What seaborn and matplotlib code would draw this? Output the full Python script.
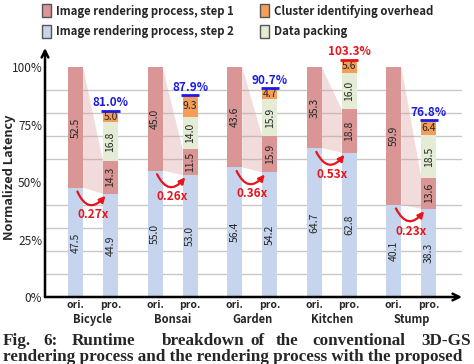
import matplotlib
matplotlib.use("Agg")
import matplotlib.pyplot as plt
from matplotlib.patches import Patch, Polygon, FancyArrowPatch
import numpy as np
import pandas as pd
import seaborn as sns

# data (percent of original runtime)
scenes = ["Bicycle", "Bonsai", "Garden", "Kitchen", "Stump"]
ori_step2 = [47.5, 55.0, 56.4, 64.7, 40.1]
ori_step1 = [52.5, 45.0, 43.6, 35.3, 59.9]
pro_step2 = [44.9, 53.0, 54.2, 62.8, 38.3]
pro_step1 = [14.3, 11.5, 15.9, 18.8, 13.6]
pro_packing = [16.8, 14.0, 15.9, 16.0, 18.5]
pro_cluster = [5.0, 9.3, 4.7, 5.6, 6.4]
total_labels = ["81.0%", "87.9%", "90.7%", "103.3%", "76.8%"]
speedups = ["0.27x", "0.26x", "0.36x", "0.53x", "0.23x"]

c_step1 = "#d99694"
c_step2 = "#c6d5ed"
c_cluster = "#f59e5a"
c_pack = "#e4ecd6"
c_red = "#e8141c"
c_blue = "#1c1ce0"

sns.set_style("white")
plt.rcParams['font.family'] = ['Noto Sans CJK KR', 'DejaVu Sans']

off = 0.22
rows = []
for i, s in enumerate(scenes):
    rows.append(dict(x=i - off, step2=ori_step2[i], step1=ori_step1[i], pack=0.0, clus=0.0))
    rows.append(dict(x=i + off, step2=pro_step2[i], step1=pro_step1[i], pack=pro_packing[i], clus=pro_cluster[i]))
df = pd.DataFrame(rows)
df['c1'] = df['step2']
df['c2'] = df['c1'] + df['step1']
df['c3'] = df['c2'] + df['pack']
df['c4'] = df['c3'] + df['clus']

fig = plt.figure(figsize=(4.74, 3.64), dpi=100)
ax = fig.add_axes([45/474, 1-297/364, (462-45)/474, (297-48)/364])

bw = 0.19
wrel = bw / (2*off)
# stacked bars by overdrawing cumulative heights, tallest first
for col, c in [('c4', c_cluster), ('c3', c_pack), ('c2', c_step1), ('c1', c_step2)]:
    sns.barplot(data=df, x='x', y=col, native_scale=True, color=c, saturation=1,
                width=wrel, linewidth=0, ax=ax, zorder=2)

# shaded band linking step1 of ori and pro
for i in range(len(scenes)):
    xo = i - off + bw/2
    xp = i + off - bw/2
    poly = Polygon([(xo, 100), (xp, pro_step2[i] + pro_step1[i]), (xp, pro_step2[i]), (xo, ori_step2[i])],
                   closed=True, facecolor=c_step1, alpha=0.33, edgecolor='none', zorder=1.5)
    ax.add_patch(poly)

# value labels
for _, r in df.iterrows():
    segs = [(r['step2'], 0), (r['step1'], r['c1']), (r['pack'], r['c2'])]
    for v, b in segs:
        if v > 0:
            ax.text(r['x'], b + v/2, f"{v:.1f}", rotation=90, ha='center', va='center',
                    fontsize=7.5, zorder=5)
    if r['clus'] > 0:
        ax.text(r['x'], r['c3'] + r['clus']/2, f"{r['clus']:.1f}", ha='center', va='center',
                fontsize=7.5, zorder=5)

# total markers and speedup arcs
for i in range(len(scenes)):
    xp = i + off
    top = df.loc[2*i+1, 'c4']
    col = c_red if top > 100 else c_blue
    ax.plot([xp - 0.115, xp + 0.115], [top, top], color=col, lw=2, zorder=6, solid_capstyle='butt')
    ax.text(xp, top + 0.6, total_labels[i], color=col, ha='center', va='bottom',
            fontsize=8.5, fontweight='bold', zorder=6)
    arr = FancyArrowPatch((i - off + 0.01, ori_step2[i] - 0.5), (i + off - 0.04, pro_step2[i]),
                          connectionstyle="arc3,rad=0.85", arrowstyle="-|>", mutation_scale=9,
                          color=c_red, lw=1.6, zorder=7)
    ax.add_patch(arr)
    ax.text(i, ori_step2[i] - 11.5, speedups[i], color=c_red, ha='center', va='center',
            fontsize=8.5, fontweight='bold', zorder=7)

ax.set_xlim(-0.603, 4.636)
ax.set_ylim(0, 108.3)
ax.set_xlabel("")
ax.set_ylabel("")

xt = [i + d for i in range(len(scenes)) for d in (-off, off)]
ax.set_xticks(xt)
ax.set_xticklabels(["ori.", "pro."] * len(scenes), fontsize=7.5, fontweight='bold')
ax.set_yticks([0, 25, 50, 75, 100])
ax.set_yticklabels(["0%", "25%", "50%", "75%", "100%"], fontsize=8.5)
ax.set_yticks(np.arange(0, 101, 10), minor=True)
ax.tick_params(which='both', length=0)
ax.tick_params(axis='x', pad=2)
ax.tick_params(axis='y', pad=2)
ax.grid(False)
ax.grid(which='minor', axis='y', color='#c8c8c8', lw=1)
ax.set_axisbelow(True)
for sp in ax.spines.values():
    sp.set_visible(False)

for i, s in enumerate(scenes):
    ax.text(i, -0.09, s, transform=ax.get_xaxis_transform(), ha='center', va='center',
            fontsize=8, fontweight='bold')

ax.annotate("", xy=(0, 1), xytext=(0, 0), xycoords='axes fraction',
            arrowprops=dict(arrowstyle='->', lw=1.8, color='k', shrinkA=0, shrinkB=0, mutation_scale=12))
ax.annotate("", xy=(1, 0), xytext=(0, 0), xycoords='axes fraction',
            arrowprops=dict(arrowstyle='->', lw=1.8, color='k', shrinkA=0, shrinkB=0, mutation_scale=12))

fig.text(0.021, 1 - 177/364, "Normalized Latency", rotation=90, ha='center', va='center',
         fontsize=9.2, fontweight='bold')

handles = [Patch(facecolor=c_step1, edgecolor='#555555'), Patch(facecolor=c_step2, edgecolor='#555555'),
           Patch(facecolor=c_cluster, edgecolor='#555555'), Patch(facecolor=c_pack, edgecolor='#555555')]
labels = ["Image rendering process, step 1", "Image rendering process, step 2",
          "Cluster identifying overhead", "Data packing"]
fig.legend(handles, labels, ncol=2, loc='upper left', bbox_to_anchor=(40/474, 1 - 2/364), frameon=False,
           handlelength=0.75, handleheight=1.4, handletextpad=0.45, columnspacing=2.3, labelspacing=0.65,
           borderpad=0.2, borderaxespad=0, prop=dict(weight='bold', size=8.2))

# caption (justified first line)
cap_font = dict(family='Liberation Serif', weight='bold', fontsize=12.3)
words1 = ["Fig.", "6:", "Runtime", "breakdown", "of", "the", "conventional"]
wx = [3, 43, 72, 162, 250, 276, 312]
for w, x in zip(words1, wx):
    fig.text(x/474, 1 - 345/364, w, va='baseline', ha='left', **cap_font)
fig.text(471/474, 1 - 345/364, "3D-GS", va='baseline', ha='right', **cap_font)
fig.text(3/474, 1 - 361/364, "rendering process and the rendering process with the proposed",
         va='baseline', ha='left', **cap_font)

fig.savefig("out.png", dpi=100)
